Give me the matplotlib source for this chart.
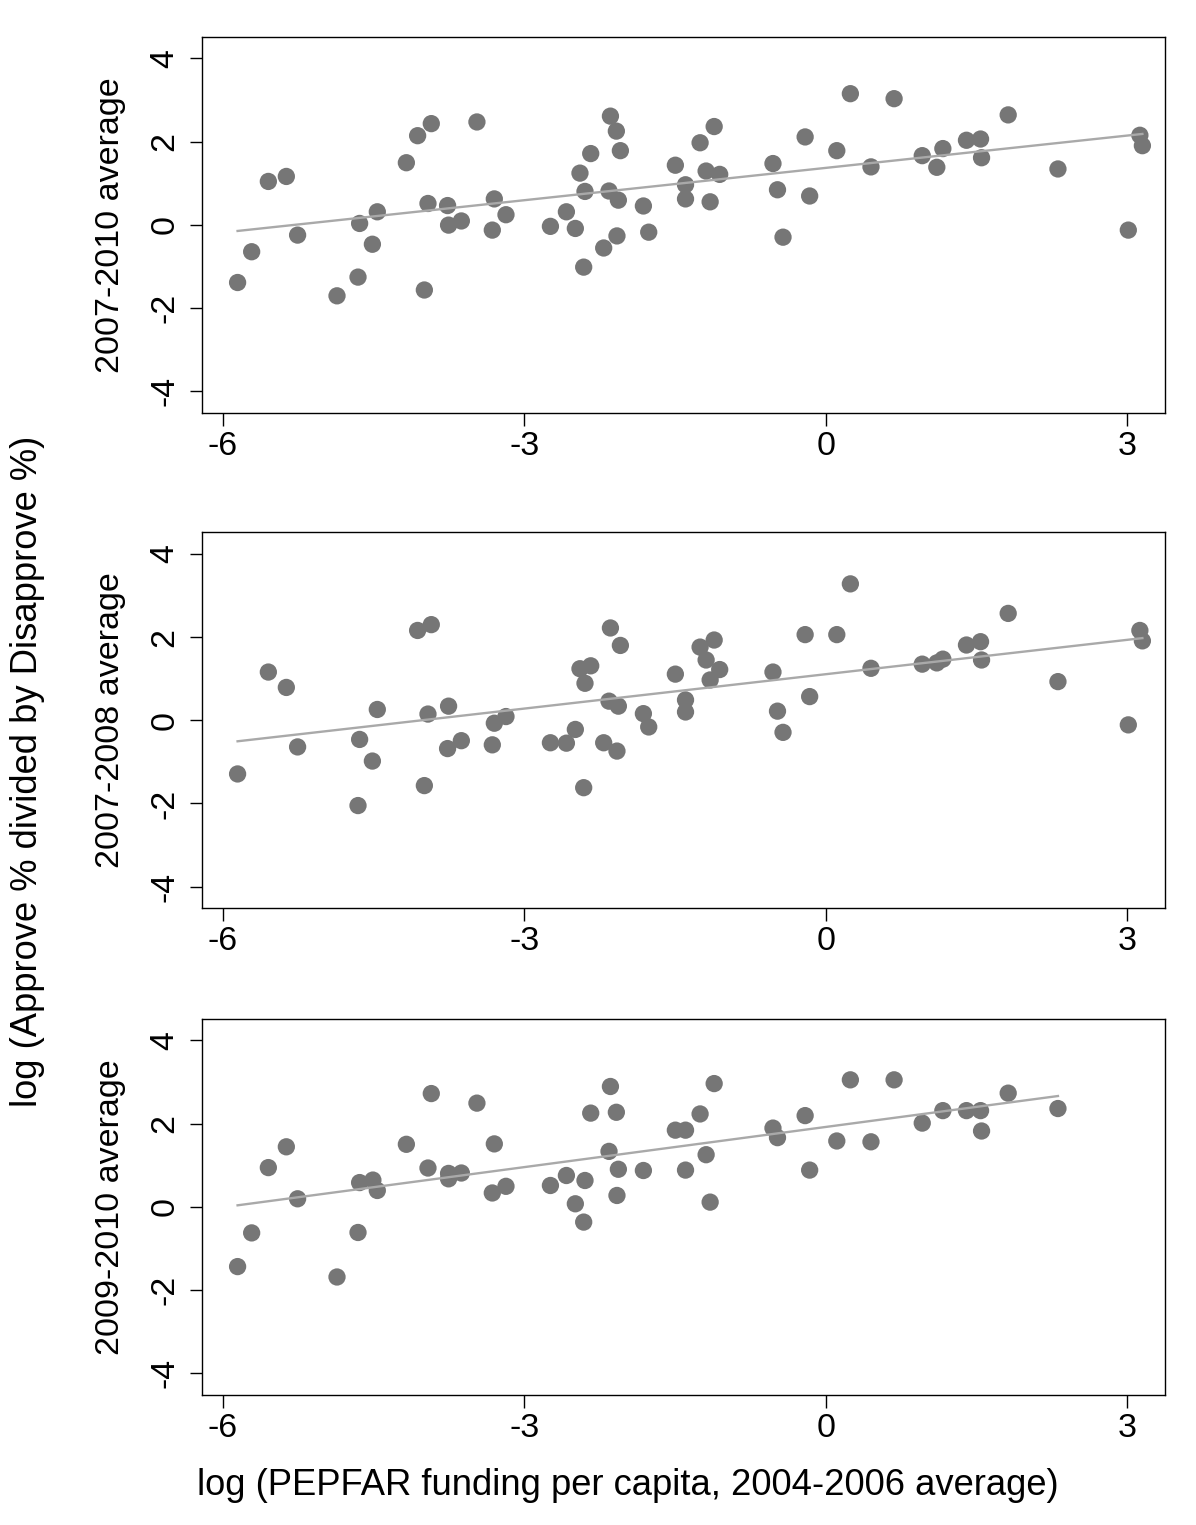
import numpy as np
import matplotlib
matplotlib.use("Agg")
import matplotlib.pyplot as plt

plt.rcParams['font.family'] = ['Liberation Sans', 'DejaVu Sans']

# ---- data ----
x_0710 = [-5.851, -5.711, -5.545, -5.366, -5.254, -4.862, -4.653, -4.637, -4.510, -4.461,
          -4.172, -4.060, -3.993, -3.957, -3.924, -3.762, -3.752, -3.625, -3.470, -3.297,
          -3.317, -3.181, -2.739, -2.580, -2.491, -2.445, -2.395, -2.408, -2.338, -2.209,
          -2.156, -2.142, -2.083, -2.063, -2.077, -2.043, -1.814, -1.761, -1.496,
          -1.395, -1.395, -1.25, -1.19, -1.15, -1.11, -1.055, -0.525, -0.48, -0.425,
          -0.205, -0.16, 0.11, 0.245, 0.45, 0.68, 0.96, 1.165, 1.105, 1.40,
          1.54, 1.55, 1.815, 2.31, 3.01, 3.125, 3.15]
y_0710 = [-1.39, -0.65, 1.04, 1.16, -0.25, -1.71, -1.26, 0.03, -0.47, 0.31,
          1.49, 2.14, -1.57, 0.51, 2.43, 0.46, -0.01, 0.09, 2.47, 0.62,
          -0.13, 0.24, -0.04, 0.31, -0.09, 1.24, 0.80, -1.02, 1.71, -0.56,
          0.81, 2.61, 2.25, 0.59, -0.27, 1.78, 0.45, -0.18, 1.43,
          0.96, 0.62, 1.97, 1.29, 0.55, 2.36, 1.21, 1.47, 0.84, -0.30,
          2.11, 0.69, 1.78, 3.15, 1.39, 3.03, 1.66, 1.83, 1.38, 2.03,
          2.06, 1.61, 2.64, 1.34, -0.13, 2.15, 1.90]

x_0708 = [-5.851, -5.545, -5.366, -5.254, -4.653, -4.637, -4.510, -4.461, -4.060, -3.993,
          -3.957, -3.924, -3.752, -3.762, -3.625, -3.317, -3.297, -3.181, -2.739, -2.580,
          -2.491, -2.445, -2.338, -2.395, -2.408, -2.209, -2.156, -2.142, -2.063, -2.077,
          -2.043, -1.814, -1.761, -1.496,
          -1.395, -1.395, -1.25, -1.19, -1.15, -1.11, -1.055, -0.525, -0.48, -0.425,
          -0.205, -0.16, 0.11, 0.245, 0.45, 0.96, 1.105, 1.165, 1.40, 1.54,
          1.55, 1.815, 2.31, 3.01, 3.125, 3.15]
y_0708 = [-1.29, 1.16, 0.79, -0.64, -2.05, -0.46, -0.98, 0.26, 2.16, -1.57,
          0.15, 2.30, 0.34, -0.68, -0.49, -0.59, -0.07, 0.09, -0.54, -0.55,
          -0.22, 1.24, 1.31, 0.89, -1.62, -0.54, 0.46, 2.22, 0.34, -0.74,
          1.80, 0.16, -0.16, 1.11,
          0.49, 0.20, 1.76, 1.45, 0.97, 1.93, 1.22, 1.16, 0.22, -0.29,
          2.06, 0.57, 2.06, 3.28, 1.25, 1.35, 1.38, 1.47, 1.81, 1.89,
          1.45, 2.57, 0.93, -0.11, 2.16, 1.91]

x_0910 = [-5.851, -5.711, -5.545, -5.366, -5.254, -4.862, -4.653, -4.637, -4.505, -4.461,
          -4.172, -3.957, -3.924, -3.752, -3.752, -3.625, -3.470, -3.297, -3.317, -3.181,
          -2.739, -2.580, -2.491, -2.408, -2.395, -2.338, -2.156, -2.142, -2.083, -2.063,
          -2.077, -1.814, -1.496,
          -1.395, -1.395, -1.25, -1.19, -1.15, -1.11, -0.525, -0.48, -0.205, -0.16,
          0.11, 0.245, 0.45, 0.68, 0.96, 1.165, 1.40, 1.54, 1.55, 1.815, 2.31]
y_0910 = [-1.44, -0.63, 0.94, 1.44, 0.19, -1.69, -0.62, 0.58, 0.64, 0.39,
          1.50, 0.93, 2.72, 0.80, 0.67, 0.81, 2.49, 1.51, 0.33, 0.49,
          0.51, 0.75, 0.07, -0.37, 0.63, 2.25, 1.33, 2.89, 2.27, 0.90,
          0.27, 0.87, 1.84,
          1.84, 0.88, 2.23, 1.25, 0.11, 2.96, 1.89, 1.66, 2.19, 0.88,
          1.58, 3.05, 1.56, 3.05, 2.01, 2.31, 2.31, 2.31, 1.82, 2.73, 2.36]

panel_labels = ["2007-2010 average", "2007-2008 average", "2009-2010 average"]
x_ticks = [-6, -3, 0, 3]
y_ticks = [-4, -2, 0, 2, 4]
x_title = "log (PEPFAR funding per capita, 2004-2006 average)"
y_title = "log (Approve % divided by Disapprove %)"

series = [(x_0710, y_0710), (x_0708, y_0708), (x_0910, y_0910)]

# ---- figure ----
W, H = 1196, 1525
fig = plt.figure(figsize=(W / 100, H / 100), dpi=100)

ax_left = 201.5 / W
ax_w = (1164.5 - 201.5) / W
ax_h = 376 / H
bottoms_px = [412.7, 908.3, 1394.7]

marker_color = "#767676"
line_color = "#a9a9a9"
fs = 24.5

for (xs, ys), lab, bpx in zip(series, panel_labels, bottoms_px):
    ax = fig.add_axes([ax_left, 1 - bpx / H, ax_w, ax_h])
    xs = np.asarray(xs)
    ys = np.asarray(ys)
    ax.scatter(xs, ys, s=155, color=marker_color, edgecolors='none', zorder=2)
    b, a = np.polyfit(xs, ys, 1)
    xl = np.array([xs.min(), xs.max()])
    ax.plot(xl, a + b * xl, color=line_color, lw=1.7, zorder=3)
    ax.set_xlim(-6.21, 3.37)
    ax.set_ylim(-4.52, 4.52)
    ax.set_xticks(x_ticks)
    ax.set_yticks(y_ticks)
    ax.set_xticklabels([str(t) for t in x_ticks])
    ax.set_yticklabels([str(t) for t in y_ticks], rotation=90, va='center')
    ax.tick_params(axis='both', direction='out', length=9, width=1.0,
                   labelsize=fs, pad=4)
    ax.tick_params(axis='y', pad=6)
    for sp in ax.spines.values():
        sp.set_linewidth(1.0)
    ax.set_ylabel(lab, fontsize=fs)
    ax.yaxis.set_label_coords(-0.078, 0.5)

fig.text(28 / W, 1 - 771 / H, y_title, rotation=90, fontsize=26.2,
         ha='center', va='center')
fig.text(627.5 / W, 1 - 1485.5 / H, x_title, fontsize=26.2,
         ha='center', va='center')

fig.savefig("out.png", dpi=100, facecolor='white')
